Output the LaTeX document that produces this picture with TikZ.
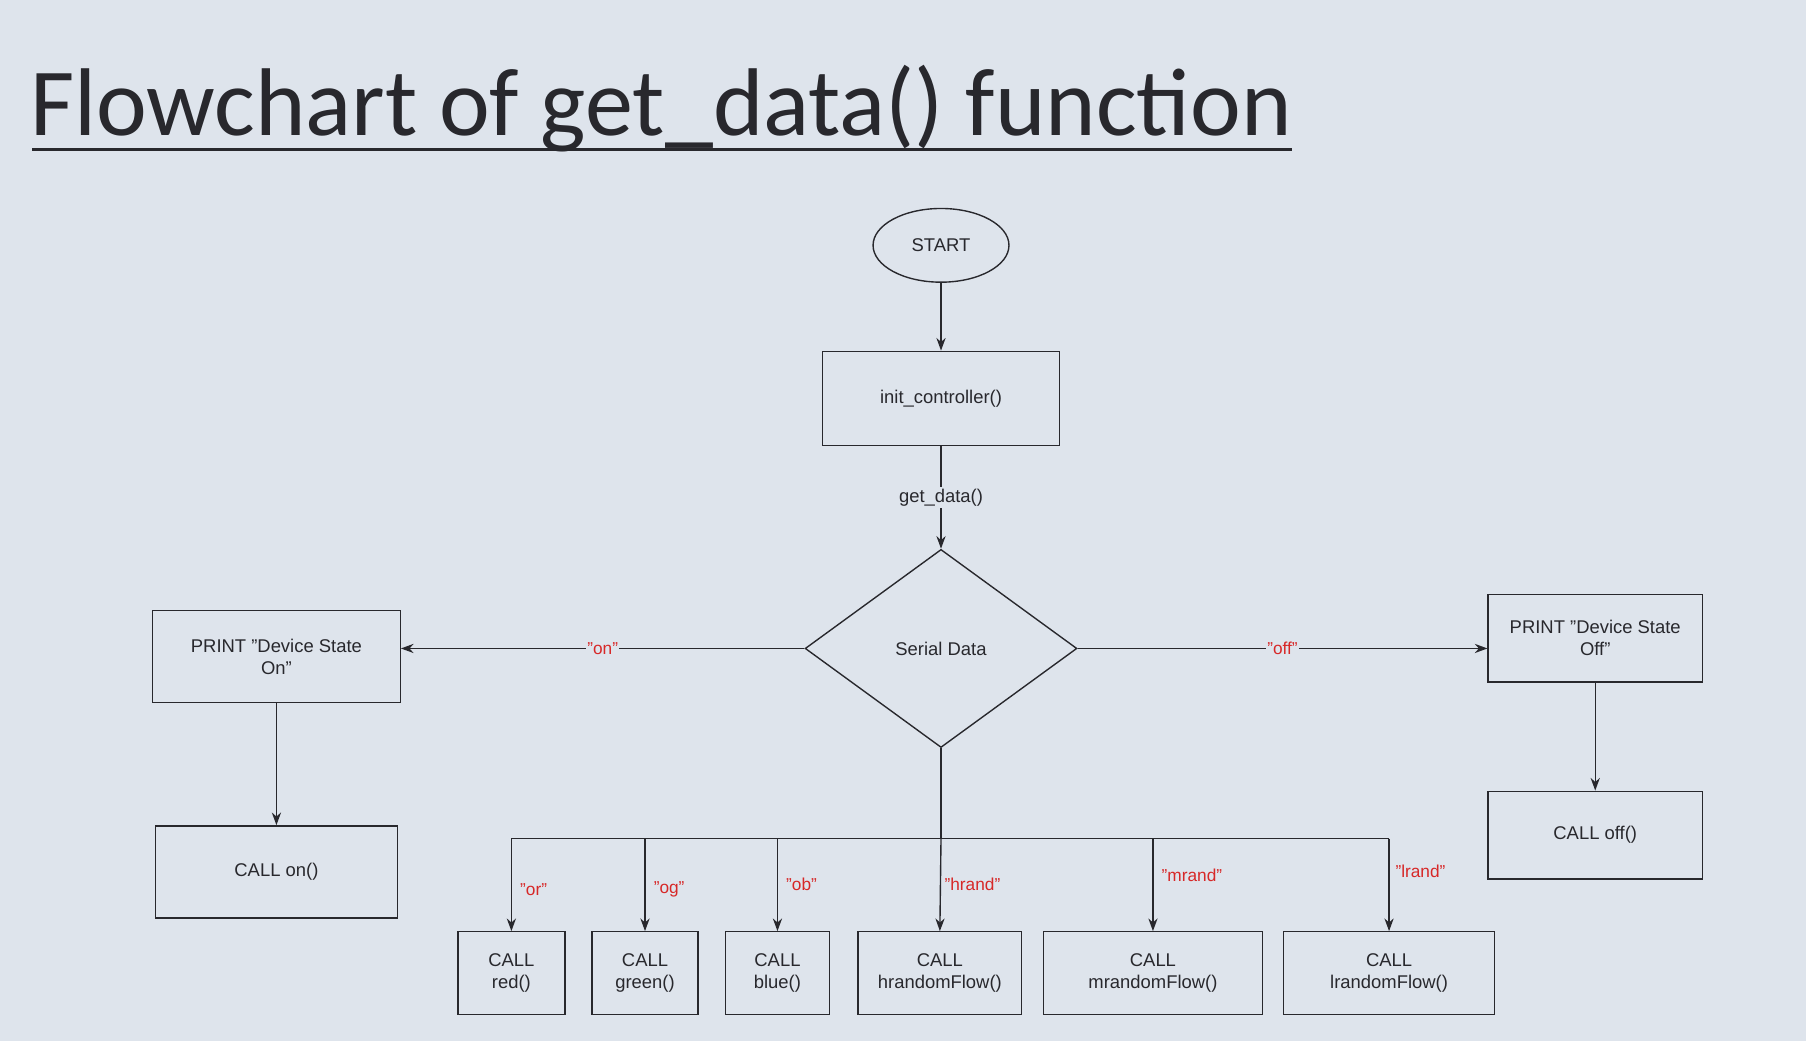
\documentclass[tikz,border=0pt]{standalone}
\usepackage{fontspec}
\setmainfont{Liberation Sans}[Ligatures=ResetAll]
\newfontfamily\titlefont{Carlito}
\usetikzlibrary{shapes.geometric,arrows.meta}
\definecolor{bg}{RGB}{222,228,236}
\definecolor{ink}{RGB}{40,40,45}
\definecolor{lab}{RGB}{215,40,40}
\newcommand{\dq}{{\char34}}
\begin{document}
\begin{tikzpicture}[x=1pt,y=-1pt,
  every node/.style={font=\fontsize{16}{19}\selectfont,text=ink},
  box/.style={draw=ink,line width=1.2pt,align=center,inner sep=2pt},
  conn/.style={draw=ink,line width=1.2pt},
  arr/.style={conn,-{Stealth[length=11pt,width=8pt]}},
  lbl/.style={text=lab,fill=bg,inner sep=1pt,font=\fontsize{15}{18}\selectfont}]
\fill[bg] (0,0) rectangle (1568,904);
\useasboundingbox (0,0) rectangle (1568,904);
\node[anchor=base west,inner sep=0,font=\titlefont\fontsize{83.5}{95}\selectfont] (title) at (26,118) {Flowchart of get\_data() function};
\draw[ink,line width=3pt] (28,130) -- (1122,130);
\node[draw=ink,line width=1.2pt,ellipse,minimum width=118pt,minimum height=64pt] (start) at (817,213) {START};
\node[box,minimum width=206pt,minimum height=82pt] (init) at (817,346) {init\_controller()};
\node[draw=ink,line width=1.2pt,diamond,aspect=1.37,minimum width=236pt,minimum height=172pt,inner sep=0] (dia) at (817,563) {Serial Data};
\node[box,minimum width=215pt,minimum height=80pt] (pon) at (240,570) {PRINT \dq Device State\\On\dq};
\node[box,minimum width=186pt,minimum height=76pt] (poff) at (1385,554) {PRINT \dq Device State\\Off\dq};
\node[box,minimum width=186pt,minimum height=76pt] (coff) at (1385,725) {CALL off()};
\node[box,minimum width=210pt,minimum height=80pt] (con) at (240,757) {CALL on()};
\node[box,minimum width=93pt,minimum height=72pt] (red) at (444,845) {CALL\\red()};
\node[box,minimum width=92pt,minimum height=72pt] (green) at (560,845) {CALL\\green()};
\node[box,minimum width=90pt,minimum height=72pt] (blue) at (675,845) {CALL\\blue()};
\node[box,minimum width=142pt,minimum height=72pt] (hr) at (816,845) {CALL\\hrandomFlow()};
\node[box,minimum width=190pt,minimum height=72pt] (mr) at (1001,845) {CALL\\mrandomFlow()};
\node[box,minimum width=183pt,minimum height=72pt] (lr) at (1206,845) {CALL\\lrandomFlow()};
\draw[arr] (start) -- (init);
\draw[arr] (init) -- node[fill=bg,inner sep=2pt]{get\_data()} (dia);
\draw[arr] (dia.west) -- node[lbl,pos=0.5]{\dq on\dq} (pon.east |- dia.west);
\draw[arr] (dia.east) -- node[lbl,pos=0.5]{\dq off\dq} (poff.west |- dia.east);
\draw[arr] (pon) -- (con);
\draw[arr] (poff) -- (coff);
\coordinate (bus) at (817,728);
\draw[conn] (dia.south) -- (bus);
\draw[conn] (red.north |- bus) -- (lr.north |- bus);
\draw[arr] (red.north |- bus) -- node[lbl,right=6pt,pos=0.55]{\dq or\dq} (red.north);
\draw[arr] (green.north |- bus) -- node[lbl,right=6pt,pos=0.55]{\dq og\dq} (green.north);
\draw[arr] (blue.north |- bus) -- node[lbl,right=6pt,pos=0.5]{\dq ob\dq} (blue.north);
\draw[arr] (bus) -- node[lbl,right=2pt,pos=0.5]{\dq hrand\dq} (hr.north);
\draw[arr] (mr.north |- bus) -- node[lbl,right=6pt,pos=0.4]{\dq mrand\dq} (mr.north);
\draw[arr] (lr.north |- bus) -- node[lbl,right=4pt,pos=0.35]{\dq lrand\dq} (lr.north);
\end{tikzpicture}
\end{document}
